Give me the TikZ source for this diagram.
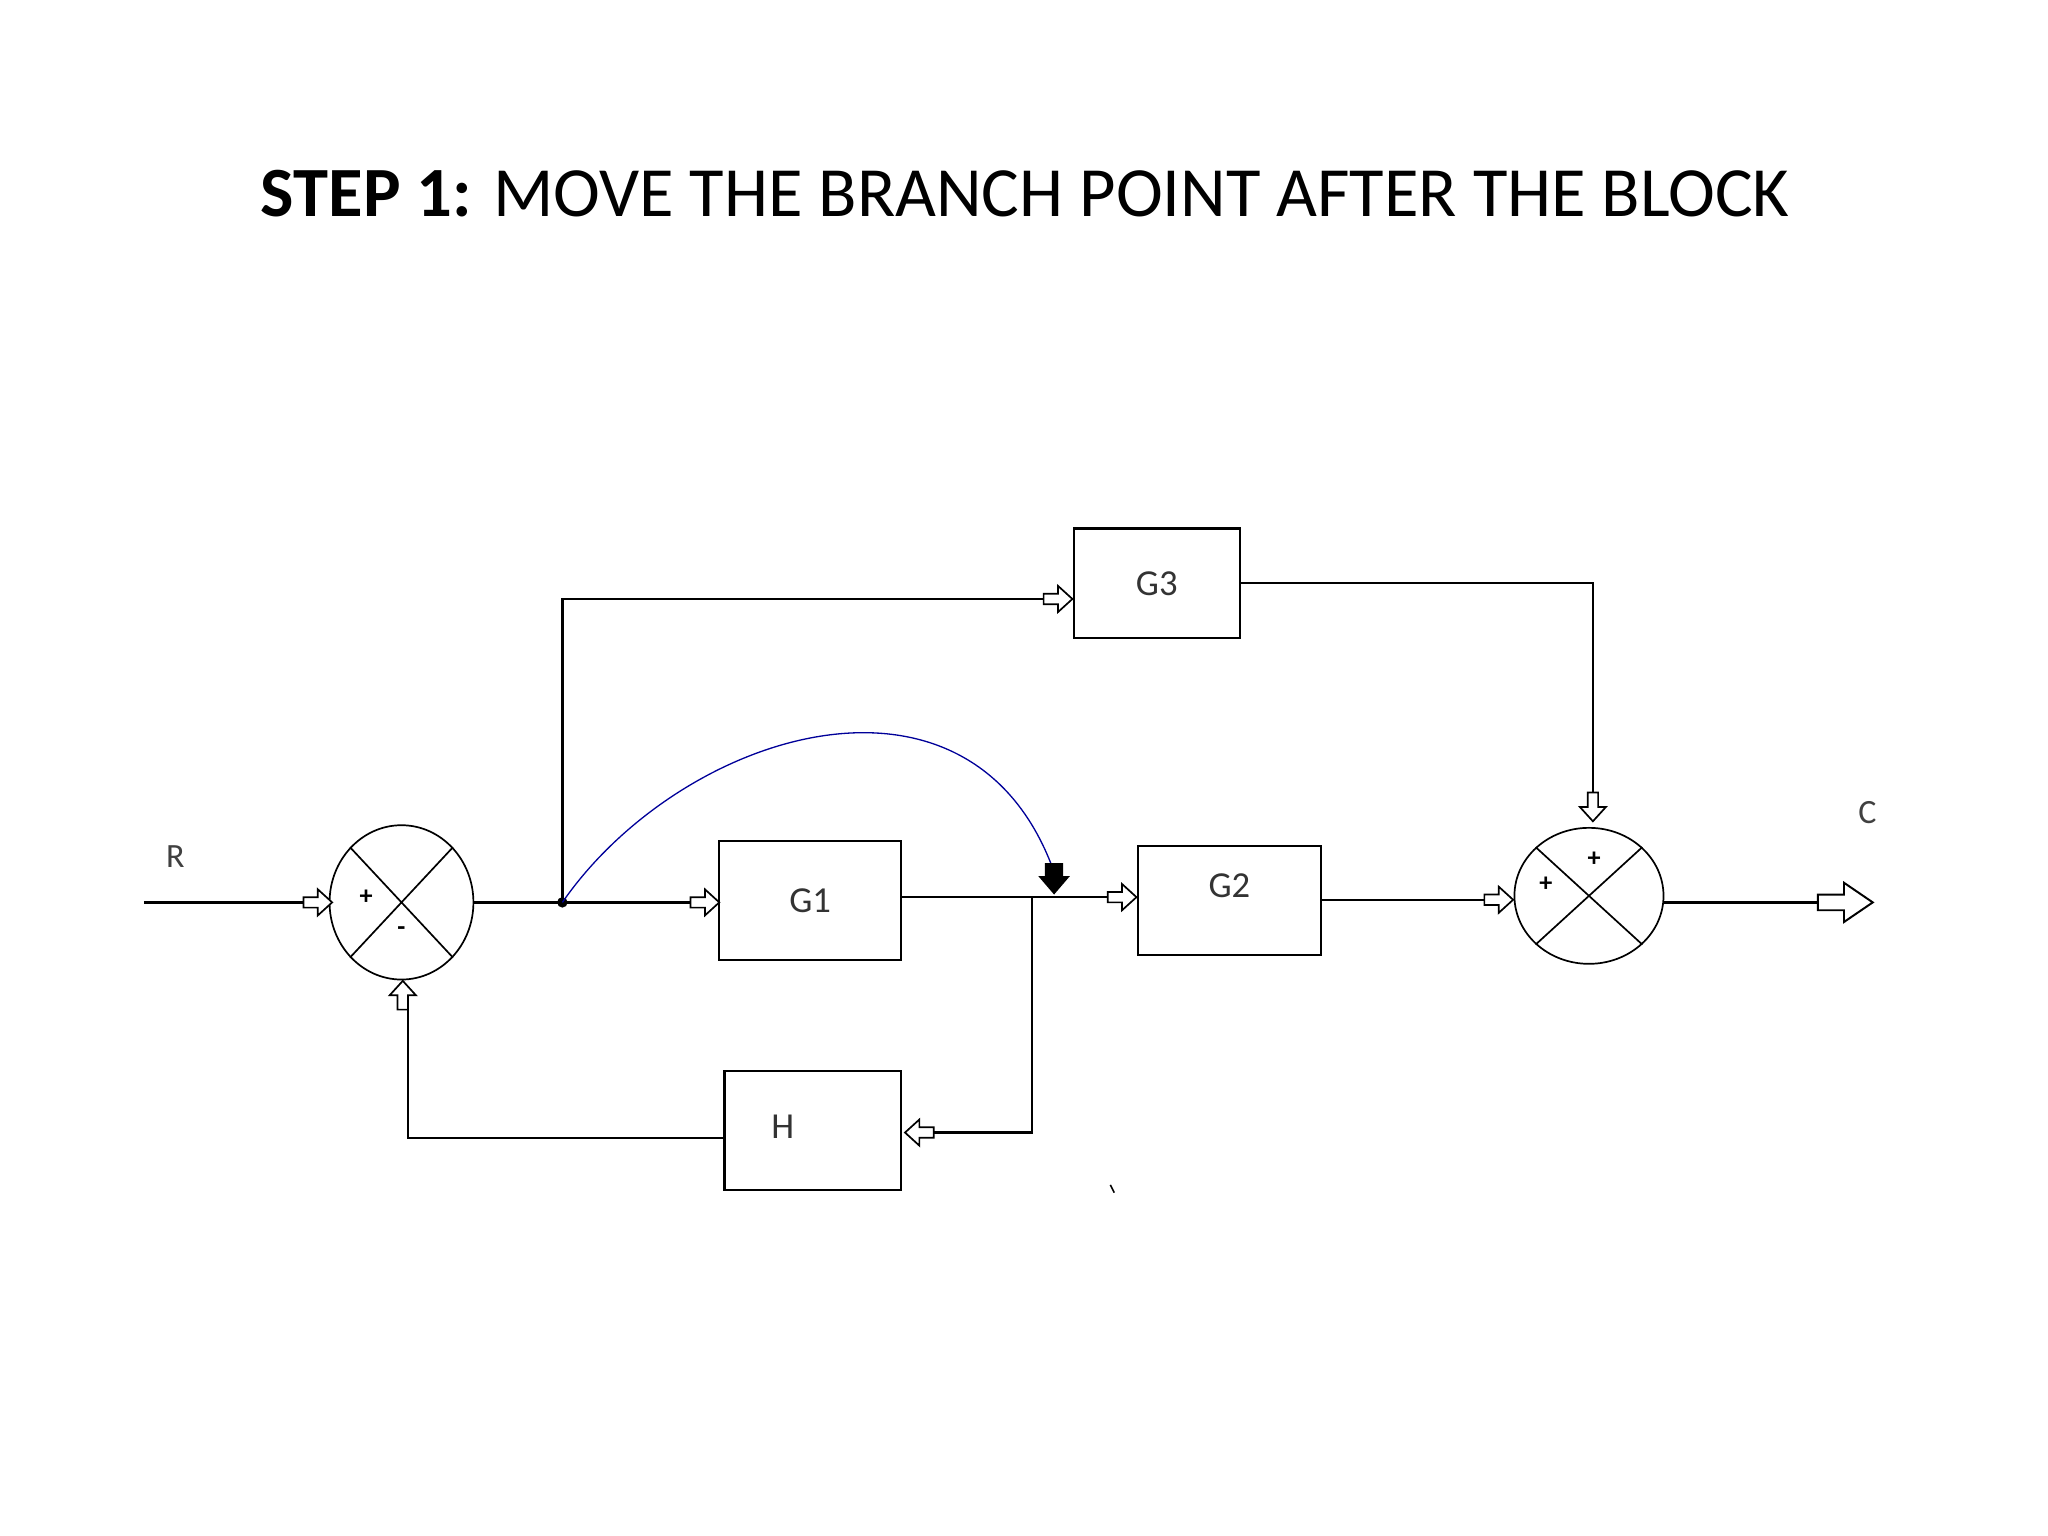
\documentclass[tikz,border=0pt]{standalone}
\usepackage{fontspec}
\setmainfont{Carlito}
\usetikzlibrary{shapes.geometric}
\begin{document}
\begin{tikzpicture}[x=1pt,y=-1pt,
  blk/.style={draw,line width=1.8pt,minimum width=#1,inner sep=0pt,font=\fontsize{28}{28}\selectfont,text=black!80},
  ln/.style={line width=1.8pt},
  sumn/.style={draw,ellipse,line width=1.3pt,inner sep=0pt},
  sgn/.style={font=\fontsize{20}{20}\selectfont\bfseries},
  harrow/.pic={\draw[line width=1.3pt,fill=white] (0,-4)--(11,-4)--(11,-10)--(22,0)--(11,10)--(11,4)--(0,4)--cycle;},
  bigarrow/.pic={\draw[line width=1.5pt,fill=white] (0,-6)--(20,-6)--(20,-15)--(42,0)--(20,15)--(20,6)--(0,6)--cycle;}
]
\useasboundingbox (0,0) rectangle (1566,1174.5);
\node (title) at (784,148) {\fontsize{54}{54}\selectfont\textbf{STEP 1:} MOVE THE BRANCH POINT AFTER THE BLOCK};
% blocks
\node[blk, minimum width=139pt, minimum height=91pt] (G1) at (619.5,688.5) {G1};
\node[blk, minimum width=140pt, minimum height=83pt] (G2) at (940,688.5) {\raisebox{22pt}{G2}};
\node[blk, minimum width=127pt, minimum height=84pt] (G3) at (884.5,446) {G3};
\node[blk, minimum width=135pt, minimum height=91pt] (H) at (621.5,864.5) {\hspace*{-46pt}\raisebox{6pt}{H}};
% summing junctions
\node[sumn, minimum width=110pt, minimum height=118pt] (S1) at (307,690) {};
\node[sumn, minimum width=114pt, minimum height=104pt] (S2) at (1215,685) {};
\draw[line width=1.3pt] (S1.north west) -- (S1.south east) (S1.north east) -- (S1.south west);
\draw[line width=1.3pt] (S2.north west) -- (S2.south east) (S2.north east) -- (S2.south west);
\node[sgn] (p1) at (280,686) {+};
\node[sgn] (m1) at (307,712) {-};
\node[sgn] (p2) at (1219,657) {+};
\node[sgn] (p3) at (1182,676) {+};
\node[font=\fontsize{26}{26}\selectfont,text=black!75] (R) at (134,655) {R};
\node[font=\fontsize{26}{26}\selectfont,text=black!75] (C) at (1428,621) {C};
% coordinates
\coordinate (in) at (110,690);
\coordinate (a1) at (232,690);
\coordinate (bp) at (430,690);
\coordinate (a2) at (528,690);
\coordinate (br2) at (789,686);
\coordinate (a3) at (847,686);
\coordinate (aH) at (712,866);
\coordinate (hb) at (312,870);
\coordinate (aS) at (312,772);
\coordinate (top1) at (430,458);
\coordinate (aG3) at (798,458);
\coordinate (c1) at (1218,446);
\coordinate (aS2t) at (1218,606);
\coordinate (aS2) at (1135,688);
\coordinate (aout) at (1390,690);
% lines
\draw[ln] (in) -- (a1);
\draw[ln] (S1.east) -- (bp) -- (a2);
\draw[ln] (G1.east |- br2) -- (a3);
\draw[ln] (br2) |- (aH);
\draw[ln] (H.west |- hb) -- (hb) -- (aS);
\draw[ln] (bp) -- (top1) -- (aG3);
\draw[ln] (G3.east |- c1) -- (c1) -- (aS2t);
\draw[ln] (G2.east |- aS2) -- (aS2);
\draw[ln] (S2.east |- aout) -- (aout);
\fill (bp) circle (4pt);
% hollow arrows
\pic at (a1) {harrow};
\pic at (a2) {harrow};
\pic at (a3) {harrow};
\pic at (aG3) {harrow};
\pic at (aS2) {harrow};
\pic[rotate=180] at (714,866) {harrow};
\pic[rotate=90] at (308,772) {harrow};
\pic[rotate=-90] at (1218,606) {harrow};
\pic at (aout) {bigarrow};
% moved branch arrow
\coordinate (tgt) at (805,664);
\draw[blue!60!black,line width=1pt] (bp) .. controls (520,560) and (740,490) .. (tgt);
\fill (799,660) -- (813,660) -- (813,670) -- (818,670) -- (806,684) -- (794,670) -- (799,670) -- cycle;
\draw[line width=1.2pt] (849,906) -- (852,912);
\end{tikzpicture}
\end{document}
